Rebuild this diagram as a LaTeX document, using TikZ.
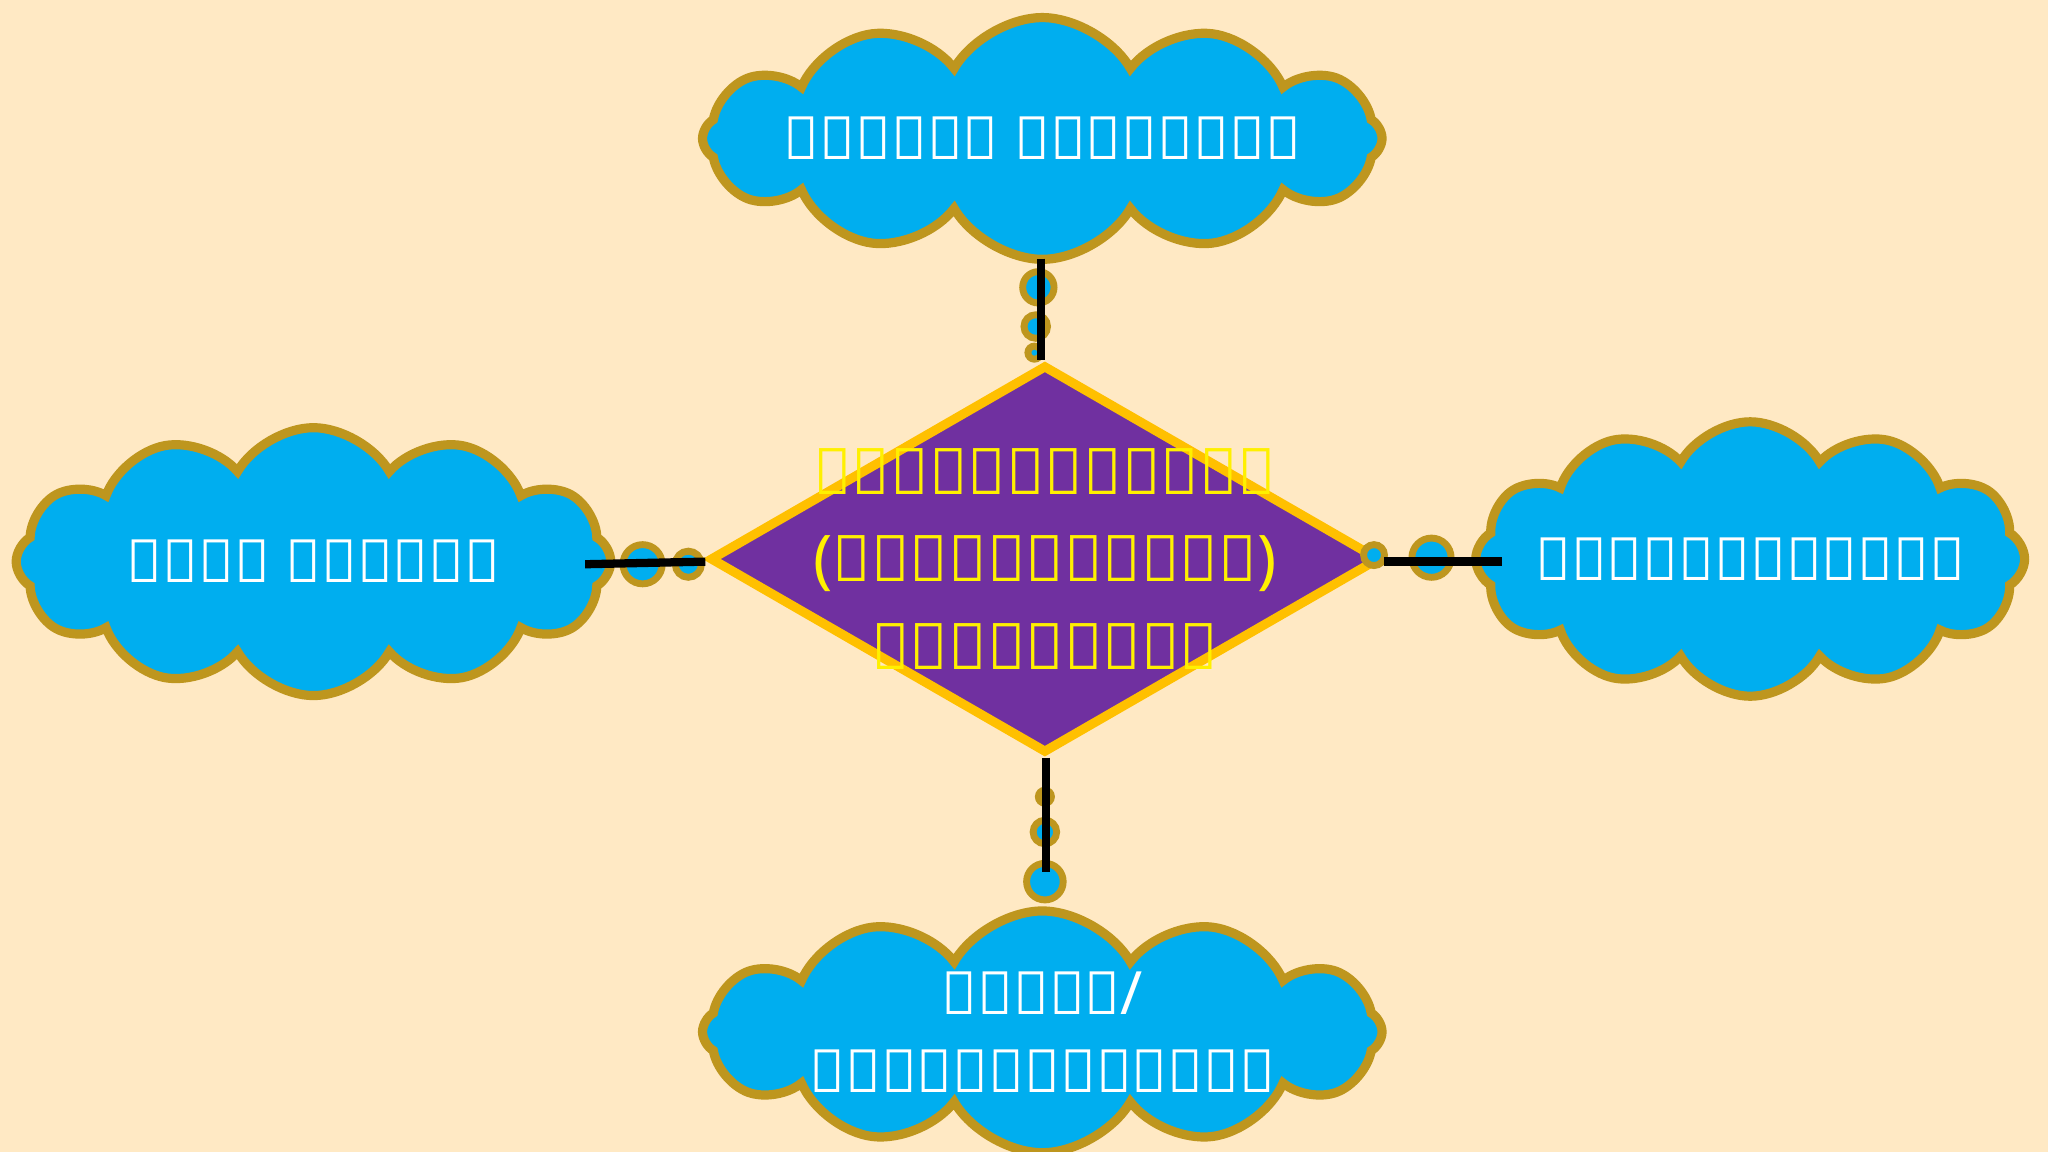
\documentclass[tikz,border=0pt]{standalone}
\usepackage{fontspec}
\usetikzlibrary{shapes.symbols,shapes.geometric}
\setmainfont{Noto Sans}
\definecolor{bg}{RGB}{255,233,196}
\definecolor{cl}{RGB}{0,174,239}
\definecolor{cb}{RGB}{190,150,30}
\definecolor{dp}{RGB}{112,48,160}
\definecolor{dg}{RGB}{255,192,0}
\definecolor{ty}{RGB}{255,240,0}
\begin{document}
\begin{tikzpicture}[x=0.01cm,y=-0.01cm,
 cloudn/.style={cloud,cloud puffs=12,cloud puff arc=120,cloud ignores aspect,fill=cl,draw=cb,line width=2pt,inner sep=0pt},
 ctext/.style={text=white,font=\bfseries\fontsize{13}{17}\selectfont,align=center},
 bub/.style={circle,fill=cl,draw=cb,line width=1.5pt,inner sep=0pt},
 con/.style={line width=1.8pt,black}]
\fill[bg] (0,0) rectangle (1568,882);
\useasboundingbox (0,0) rectangle (1568,882);
\node[diamond,fill=dp,draw=dg,line width=2pt,minimum width=5.13cm,minimum height=2.97cm,inner sep=0pt] (d) at (800,428) {};
\node[text=ty,font=\fontsize{14}{19}\selectfont,align=center] (dt) at (800,428) {டிஸ்லெக்சியா\\(பாதிப்புகள்)\\கண்டறிதல்};
\node[cloudn,minimum width=5.2cm,minimum height=1.85cm] (t) at (798,106) {};
\node[cloudn,minimum width=4.55cm,minimum height=2.05cm] (l) at (240,430) {};
\node[cloudn,minimum width=4.2cm,minimum height=2.1cm] (r) at (1340,428) {};
\node[cloudn,minimum width=5.2cm,minimum height=1.85cm] (b) at (798,790) {};
\node[ctext] (tt) at (t.center) {கற்றல் குறைபாடு};
\node[ctext] (lt) at (l.center) {சமூக நடத்தை};
\node[ctext] (rt) at (r.center) {இயக்கத்திறன்};
\node[ctext] (bt) at (b.center) {கவனம்/\\ஒருங்கிணைப்பு};
\node[bub,minimum size=0.24cm] (t1) at (795,220) {};
\node[bub,minimum size=0.18cm] (t2) at (793,250) {};
\node[bub,minimum size=0.1cm] (t3) at (792,270) {};
\node[bub,minimum size=0.3cm] (l1) at (492,432) {};
\node[bub,minimum size=0.2cm] (l2) at (527,432) {};
\node[bub,minimum size=0.3cm] (r1) at (1096,427) {};
\node[bub,minimum size=0.16cm] (r2) at (1052,425) {};
\node[bub,minimum size=0.28cm] (b1) at (800,675) {};
\node[bub,minimum size=0.18cm] (b2) at (800,637) {};
\node[bub,minimum size=0.1cm] (b3) at (800,610) {};
\coordinate (ta) at (797,198); \coordinate (tb) at (797,276);
\coordinate (la) at (448,432); \coordinate (lb) at (540,430);
\coordinate (ra) at (1060,430); \coordinate (rb) at (1150,430);
\coordinate (ba) at (801,580); \coordinate (bb) at (801,668);
\draw[con] (ta) -- (tb);
\draw[con] (la) -- (lb);
\draw[con] (ra) -- (rb);
\draw[con] (ba) -- (bb);
\end{tikzpicture}
\end{document}
